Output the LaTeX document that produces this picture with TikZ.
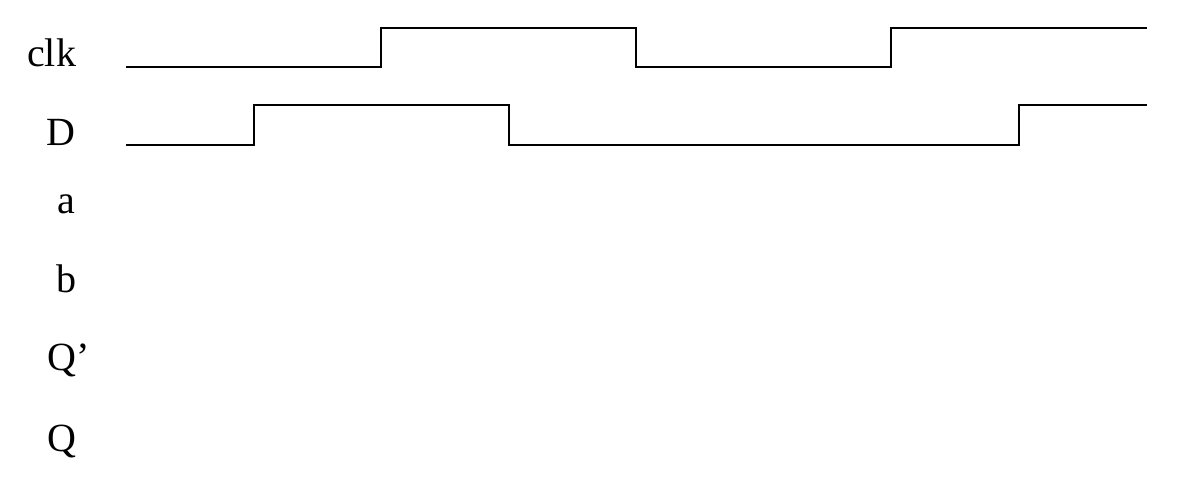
\documentclass[tikz,border=0pt]{standalone}
\usepackage{fontspec}
\setmainfont{Liberation Serif}
\begin{document}
\begin{tikzpicture}[x=1pt,y=-1pt,
  lbl/.style={anchor=base west,inner sep=0pt,font=\fontsize{40}{48}\selectfont},
  wave/.style={line width=1.6pt,line join=miter}]
\useasboundingbox (0,0) rectangle (1196,489);
\node[lbl] (lclk) at (27,67) {clk};
\node[lbl] (lD) at (46,146) {D};
\node[lbl] (la) at (57,214) {a};
\node[lbl] (lb) at (56,292) {b};
\node[lbl] (lQp) at (47,370) {Q’};
\node[lbl] (lQ) at (47,451) {Q};
\draw[wave] (126,67) -- (381,67) -- (381,28) -- (636,28) -- (636,67) -- (891,67) -- (891,28) -- (1147,28);
\draw[wave] (126,145) -- (254,145) -- (254,105) -- (509,105) -- (509,145) -- (1019,145) -- (1019,105) -- (1147,105);
\end{tikzpicture}
\end{document}
